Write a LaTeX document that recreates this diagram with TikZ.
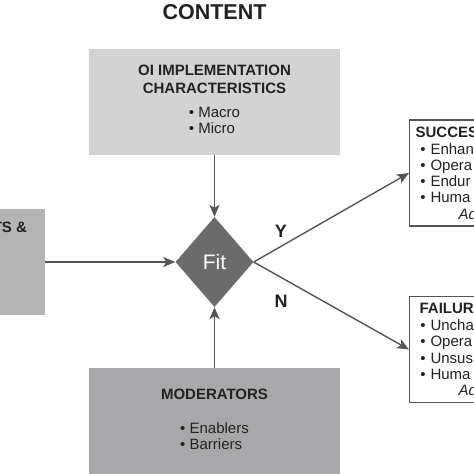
\documentclass[tikz,border=0pt]{standalone}
\usepackage{fontspec}
\setmainfont{Liberation Sans}
\usetikzlibrary{shapes.geometric,arrows.meta,positioning}
\definecolor{boxlight}{HTML}{D3D3D3}
\definecolor{boxmid}{HTML}{B4B4B4}
\definecolor{boxdark}{HTML}{A8A8AA}
\definecolor{fitgray}{HTML}{6B6B6B}
\definecolor{linegray}{HTML}{555555}
\definecolor{inkgray}{HTML}{222222}

\begin{document}
\begin{tikzpicture}[x=1pt,y=-1pt,
        every node/.style={text=inkgray, font=\fontsize{15}{16.7}\selectfont},
        graybox/.style={rectangle, inner sep=0pt, minimum width=251pt, minimum height=106pt, align=center},
        outbox/.style={rectangle, draw=linegray, line width=1.2pt, fill=white, inner xsep=6pt, inner ysep=0pt,
            minimum width=86pt, minimum height=106pt, text width=74pt, align=left, font=\fontsize{15}{16.3}\selectfont},
        flow/.style={linegray, line width=1.4pt, -{Stealth[length=12pt,width=10pt,inset=3pt]}},
        yn/.style={font=\fontsize{18}{18}\selectfont\bfseries, text=inkgray}]
        \useasboundingbox (0,0) rectangle (474,474);
        \clip (0,0) rectangle (474,474);

        % title and the three input boxes
        \node[font=\fontsize{21.5}{22}\selectfont\bfseries] (title) at (214.5,12) {CONTENT};
        \node[graybox, fill=boxlight] (impl) at (214.5,102) {\textbf{OI IMPLEMENTATION}\\[1.5pt]\textbf{CHARACTERISTICS}\\[6.6pt]
            \begin{tabular}[t]{@{}l@{}}• Macro\\• Micro\end{tabular}};
        \node[graybox, fill=boxdark, minimum height=108pt] (moder) at (214.5,422) {\textbf{MODERATORS}\\[16.6pt]
            \begin{tabular}[t]{@{}l@{}}• Enablers\\• Barriers\end{tabular}};
        \node[rectangle, fill=boxmid, minimum width=100pt, minimum height=106pt, anchor=east] (ctx) at (45,262) {};
        \node[anchor=base east, font=\fontsize{15}{16.7}\selectfont\bfseries] (ctxhead) at ([xshift=-14.5pt,yshift=-23.5pt]ctx.north east) {TS \&};

        % decision
        \node[diamond, fill=fitgray, inner sep=0pt, minimum width=78pt, minimum height=90pt,
            text=white, font=\fontsize{21}{21}\selectfont] (fit) at (214.5,262) {Fit};

        % outcomes
        \node[outbox, anchor=west] (succ) at (409,173) {\textbf{SUCCES}\\[0.7pt]
            \hspace*{4.7pt}• Enhan\\\hspace*{4.7pt}• Opera\\\hspace*{4.7pt}• Endur\\\hspace*{4.7pt}• Huma\\
            \hspace*{43pt}\textit{Ad}};
        \node[outbox, anchor=west] (fail) at (409,349.5) {\hspace*{4pt}\textbf{FAILUR}\\[0.7pt]
            \hspace*{4.7pt}• Uncha\\\hspace*{4.7pt}• Opera\\\hspace*{4.7pt}• Unsus\\\hspace*{4.7pt}• Huma\\
            \hspace*{43pt}\textit{Ad}};

        \draw[flow] (impl) -- (fit);
        \draw[flow] (moder) -- (fit);
        \draw[flow] (ctx) -- (fit);
        \draw[flow] (fit.east) -- (succ.west);
        \draw[flow] (fit.east) -- (fail.west);

        \node[yn] (yes) at (281,231) {Y};
        \node[yn] (no) at (281,301) {N};
\end{tikzpicture}
\end{document}
